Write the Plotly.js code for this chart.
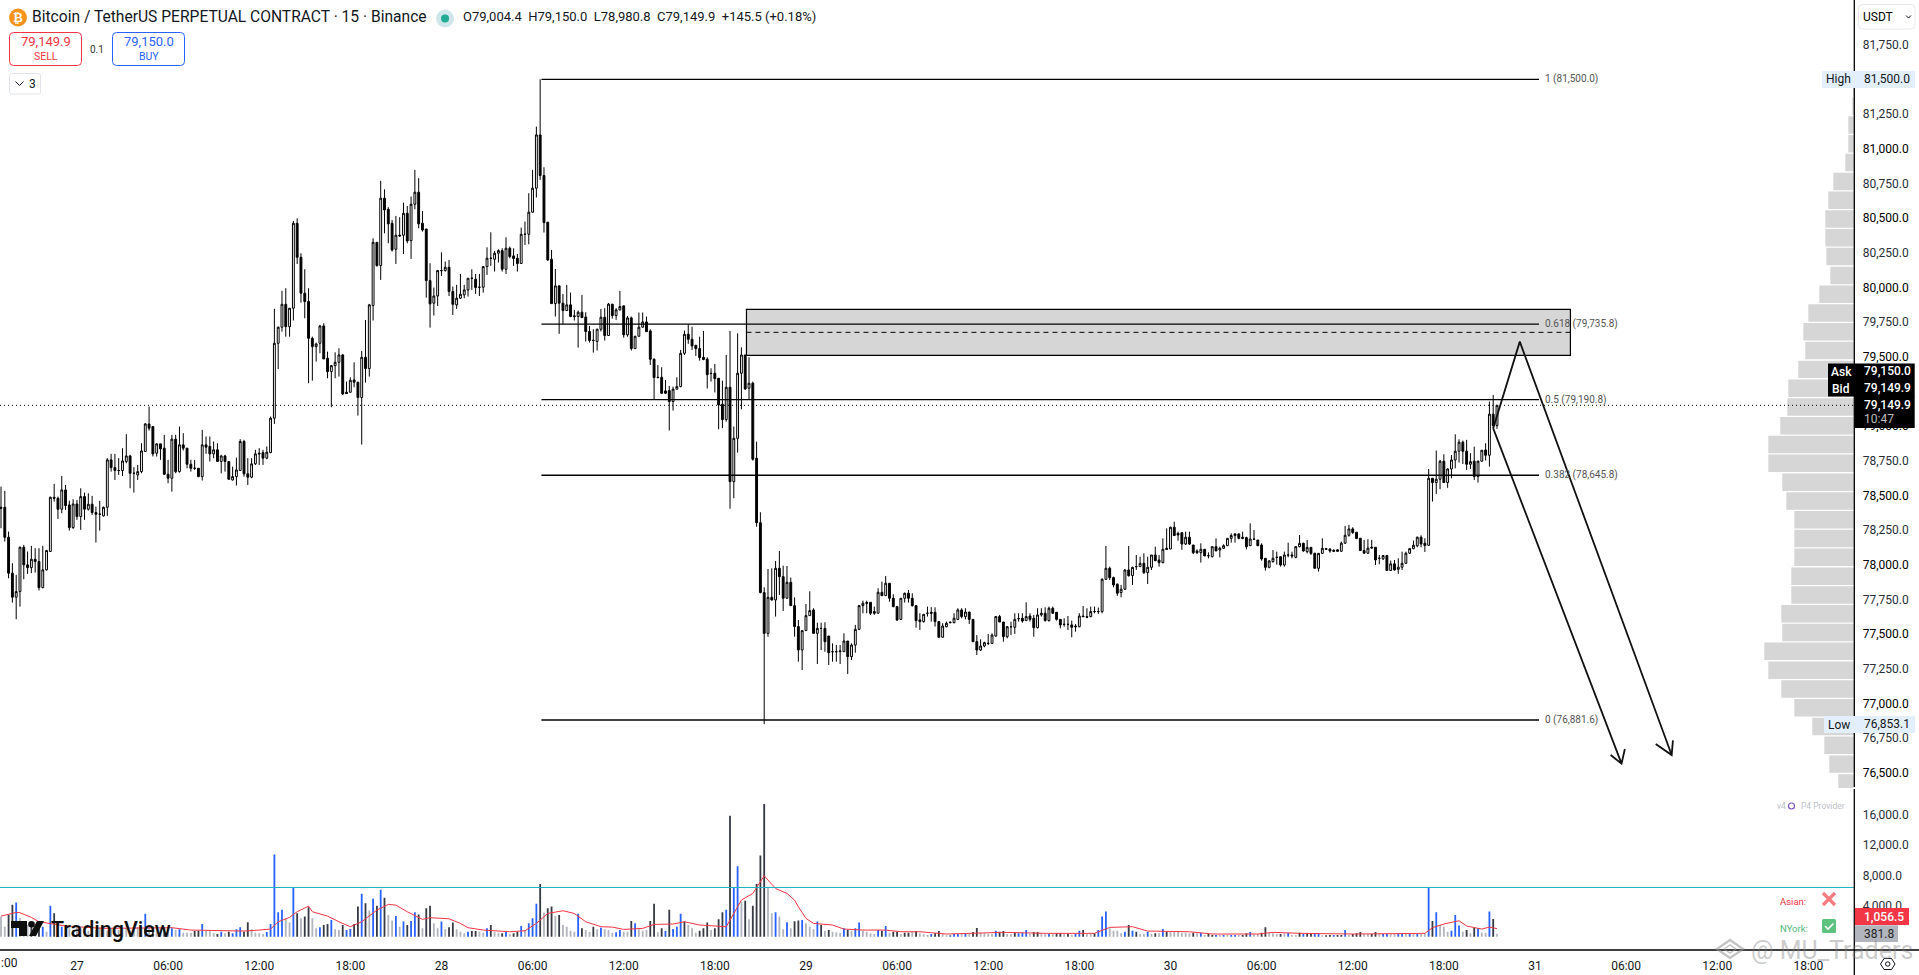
<!DOCTYPE html>
<html><head><meta charset="utf-8">
<script src="https://cdn.plot.ly/plotly-3.0.1.min.js"></script>
<style>html,body{margin:0;padding:0;background:#fff;overflow:hidden}#chart{width:1919px;height:975px}</style>
</head><body><div id="chart"></div>
<script>
// 15-minute bars, one every 15 minutes from 26 Mar 19:00
const open=[
78415,78415,78199,77940,77767,77807,78127,78000,77980,78040,
78024,77836,77964,78096,78487,78480,78401,78540,78432,78269,
78439,78348,78492,78401,78437,78377,78365,78353,78415,78757,
78701,78680,78680,78745,78785,78660,78648,78672,78817,79016,
78997,78805,78872,78841,78653,78624,78906,78672,78865,78841,
78725,78696,78696,78636,78865,78853,78800,78829,78745,78785,
78745,78612,78636,78680,78889,78656,78632,78728,78805,78809,
78769,78809,79057,79597,79713,79878,79717,79850,80462,80217,
79958,79898,79633,79573,79597,79722,79489,79393,79436,79460,
79513,79244,79244,79333,79316,79206,79496,79415,79869,80325,
80157,80643,80563,80462,80275,80376,80376,80534,80337,80599,
80686,80462,80421,80049,79886,79938,80121,80121,80145,79970,
79874,79922,79946,79982,80066,80059,80001,80001,80150,80210,
80203,80246,80265,80131,80282,80227,80210,80172,80383,80383,
80542,80715,81099,80806,80470,80203,79883,80011,79886,79833,
79874,79795,79790,79821,79787,79682,79619,79610,79698,79785,
79653,79879,79797,79838,79867,79658,79780,79559,79648,79713,
79751,79686,79482,79352,79352,79254,79256,79177,79266,79285,
79525,79662,79626,79583,79559,79496,79482,79381,79381,79345,
79158,79047,79280,78600,78912,79381,79513,79273,79309,78768,
78304,77800,77506,77766,77747,77975,77915,77759,77874,77706,
77555,77386,77526,77634,77675,77506,77542,77542,77487,77374,
77374,77374,77374,77451,77338,77422,77535,77706,77728,77730,
77663,77651,77802,77778,77867,77759,77699,77607,77759,77795,
77759,77706,77603,77591,77651,77658,77658,77591,77478,77554,
77583,77583,77607,77675,77627,77660,77607,77446,77386,77415,
77434,77434,77487,77627,77588,77482,77554,77550,77612,77615,
77598,77631,77615,77547,77639,77651,77598,77687,77658,77607,
77571,77571,77567,77559,77554,77631,77627,77627,77663,77663,
77663,77896,77975,77908,77860,77800,77824,77963,77922,77987,
77987,78011,77944,77982,78071,78035,78016,78119,78114,78271,
78227,78232,78150,78199,78143,78100,78088,78112,78066,78059,
78131,78107,78119,78138,78191,78211,78223,78199,78196,78138,
78186,78179,78143,78047,77982,78023,78054,78059,77999,78071,
78071,78054,78131,78155,78095,78126,78083,77975,78083,78117,
78115,78105,78108,78098,78156,78213,78259,78235,78192,78103,
78084,78127,78127,78047,78043,78067,77959,78007,77968,77983,
78011,78084,78117,78137,78199,78156,78141,78624,78593,78617,
78747,78593,78691,78756,78819,78884,78819,78725,78747,78636,
78747,78828,78790,79086,79004.4];
const high=[
78564,78533,78240,78012,77928,78132,78144,78096,78137,78120,
78120,78137,78108,78492,78584,78492,78641,78576,78463,78473,
78468,78552,78521,78516,78497,78420,78461,78420,78769,78800,
78800,78769,78841,78942,78793,78704,78720,78877,79021,79141,
78997,78877,78872,78937,78757,78937,78937,78997,78949,78841,
78757,78757,78696,78973,78925,78925,78889,78877,78793,78793,
78745,78708,78773,78906,78901,78769,78769,78829,78841,78829,
78853,79069,79845,79717,79975,79994,79850,80479,80498,80246,
80131,79994,79645,79602,79729,79741,79537,79441,79532,79561,
79520,79321,79352,79460,79321,79542,79765,79881,80354,80325,
80768,80707,80578,80486,80515,80506,80611,80587,80655,80847,
80787,80551,80421,80174,79999,80126,80253,80186,80198,80006,
80018,80097,80018,80066,80131,80097,80097,80150,80289,80397,
80263,80275,80282,80361,80294,80282,80241,80431,80474,80679,
80847,81159,81500,80866,80470,80270,80133,80011,79953,80018,
79963,79838,79833,79946,79821,79722,79698,79703,79845,79850,
79888,79879,79850,79975,79867,79794,79790,79648,79819,79819,
79790,79698,79489,79441,79424,79333,79290,79285,79352,79549,
79689,79734,79717,79583,79645,79686,79496,79417,79448,79345,
79328,79513,79686,78997,79669,79568,79513,79496,79321,78888,
78379,77838,77970,77975,78028,78100,77994,77992,77908,77766,
77603,77526,77718,77809,77687,77583,77583,77586,77487,77434,
77422,77422,77506,77451,77434,77567,77711,77742,77742,77730,
77699,77831,77879,77920,77867,77788,77699,77759,77800,77819,
77795,77711,77651,77646,77699,77694,77694,77591,77579,77591,
77591,77651,77687,77687,77687,77660,77607,77494,77463,77446,
77502,77506,77631,77639,77588,77559,77590,77651,77651,77651,
77730,77651,77639,77687,77687,77694,77699,77699,77658,77607,
77615,77631,77598,77574,77651,77703,77687,77699,77699,77692,
77903,78136,77987,77915,77867,77855,77968,78136,77987,78071,
78059,78083,78059,78071,78131,78071,78191,78263,78275,78311,
78239,78232,78239,78239,78143,78112,78155,78112,78090,78131,
78191,78131,78148,78191,78227,78227,78227,78239,78203,78299,
78251,78179,78155,78047,78035,78107,78095,78059,78095,78160,
78095,78136,78215,78160,78179,78126,78088,78083,78191,78122,
78115,78112,78112,78168,78281,78288,78271,78235,78192,78180,
78185,78180,78127,78071,78071,78071,78031,78035,78047,78095,
78095,78122,78175,78204,78213,78192,78691,78624,78824,78756,
78797,78696,78792,78941,78905,78896,78901,78805,78852,78752,
78828,78877,79177,79225,79150];
const low=[
78264,78168,77903,77728,77608,77699,77896,77935,77940,77944,
77815,77831,77959,78096,78456,78331,78372,78396,78247,78259,
78324,78252,78324,78391,78360,78161,78247,78348,78353,78672,
78612,78648,78641,78732,78552,78521,78612,78660,78817,78968,
78781,78781,78757,78648,78588,78528,78660,78665,78824,78696,
78672,78684,78632,78608,78800,78745,78769,78745,78660,78672,
78612,78608,78572,78680,78636,78576,78624,78720,78720,78720,
78761,78805,79016,79412,79681,79645,79645,79761,80169,79890,
79777,79309,79328,79465,79525,79484,79345,79136,79345,79357,
79225,79235,79242,79280,79076,78867,79314,79357,79761,80150,
80054,80390,80318,80258,80169,80366,80241,80318,80205,80563,
80426,80402,79926,79710,79797,79866,80083,80114,79938,79801,
79845,79917,79922,79934,79982,79953,79938,79962,80090,80155,
80114,80179,80114,80097,80210,80155,80114,80169,80306,80311,
80539,80648,80775,80395,80191,79883,79790,79665,79737,79833,
79785,79761,79566,79782,79610,79602,79530,79545,79682,79617,
79650,79775,79766,79833,79638,79645,79545,79559,79645,79710,
79681,79441,79189,79345,79232,79232,78968,79112,79266,79280,
79513,79593,79549,79506,79472,79475,79271,79321,79242,78977,
78985,79033,78405,78480,78809,79122,79261,79194,78751,78275,
77795,76853.1,77482,77742,77627,77783,77667,77759,77703,77482,
77302,77242,77526,77631,77502,77285,77386,77374,77278,77302,
77302,77285,77374,77213,77314,77367,77530,77651,77651,77639,
77639,77651,77776,77776,77735,77694,77595,77603,77728,77728,
77699,77547,77530,77583,77627,77591,77555,77475,77475,77550,
77578,77578,77602,77615,77607,77574,77446,77350,77379,77406,
77422,77430,77482,77588,77446,77470,77494,77502,77591,77583,
77598,77591,77482,77542,77627,77591,77591,77646,77598,77542,
77554,77530,77478,77518,77550,77622,77615,77622,77651,77646,
77651,77891,77891,77838,77776,77766,77819,77915,77855,77963,
77987,77934,77862,77963,78026,77987,78011,78107,78114,78208,
78174,78108,78143,78143,78078,78078,78016,78064,78047,78054,
78100,78054,78114,78136,78160,78160,78184,78184,78112,78136,
78179,78136,78030,77958,77975,78016,78001,77987,77987,78054,
78047,78047,78126,78095,78083,78071,77975,77951,78078,78108,
78088,78093,78093,78093,78151,78203,78223,78187,78100,78079,
78079,78117,77999,78004,78035,77959,77956,77959,77935,77963,
78007,78079,78112,78127,78127,78093,78136,78456,78511,78545,
78593,78555,78624,78696,78737,78727,78684,78691,78612,78593,
78744,78752,78708,78980,78980.8];
const close=[
78408,78199,77940,77767,77807,78127,78000,77980,78040,78024,
77836,77964,78103,78487,78480,78401,78540,78427,78269,78439,
78348,78492,78401,78437,78377,78365,78365,78415,78757,78701,
78680,78680,78749,78785,78660,78660,78672,78821,79016,78985,
78800,78872,78836,78653,78624,78906,78672,78865,78841,78725,
78696,78696,78636,78865,78848,78800,78829,78745,78785,78745,
78617,78636,78684,78889,78656,78632,78728,78800,78800,78769,
78812,79057,79597,79713,79878,79717,79850,80462,80217,79958,
79898,79633,79573,79592,79722,79484,79393,79436,79460,79513,
79232,79235,79330,79316,79206,79496,79415,79874,80325,80157,
80643,80558,80458,80270,80376,80371,80534,80335,80599,80686,
80458,80414,80049,79881,79938,80121,80121,80145,79970,79878,
79922,79950,79982,80066,80066,79999,80001,80150,80210,80210,
80246,80265,80131,80282,80222,80208,80172,80383,80383,80542,
80715,81099,80806,80467,80198,79883,80011,79886,79833,79874,
79790,79790,79821,79782,79682,79617,79617,79698,79785,79653,
79879,79797,79838,79862,79658,79780,79559,79648,79713,79751,
79681,79482,79350,79350,79237,79237,79177,79266,79285,79525,
79662,79626,79578,79559,79494,79480,79371,79379,79343,79153,
79047,79280,78600,78912,79381,79513,79268,79309,78761,78304,
77800,77506,77766,77747,77975,77915,77759,77874,77706,77555,
77386,77526,77634,77670,77506,77542,77542,77446,77367,77374,
77374,77379,77451,77338,77422,77535,77706,77723,77723,77651,
77651,77802,77778,77867,77759,77699,77603,77759,77795,77759,
77706,77598,77591,77643,77651,77651,77591,77478,77559,77579,
77586,77615,77675,77627,77660,77607,77446,77386,77415,77439,
77434,77494,77627,77588,77482,77554,77554,77607,77612,77595,
77627,77607,77547,77639,77651,77598,77687,77651,77607,77567,
77571,77571,77550,77554,77631,77627,77622,77663,77663,77663,
77896,77975,77908,77855,77795,77824,77963,77922,77982,77987,
78011,77944,77982,78071,78030,78016,78112,78112,78271,78211,
78215,78150,78199,78150,78088,78088,78112,78064,78066,78131,
78100,78119,78138,78191,78211,78223,78191,78191,78131,78186,
78184,78138,78042,77982,78028,78047,78054,77999,78071,78071,
78064,78131,78155,78100,78126,78083,77975,78083,78119,78112,
78100,78098,78098,78156,78213,78259,78233,78189,78103,78084,
78120,78122,78035,78047,78067,77959,78007,77963,77983,78011,
78084,78117,78141,78199,78151,78139,78624,78593,78617,78747,
78593,78691,78756,78819,78884,78819,78725,78744,78636,78747,
78826,78790,79086,79004,79149.9];

const volume=[
2640,1320,2860,4180,4488,2420,1980,1540,1540,1320,
1540,1320,660,4048,3080,1760,1320,1320,1100,880,
1320,1100,968,792,1100,880,1232,968,792,1100,
1320,880,968,1100,792,880,1232,1100,2992,1320,
1320,1100,1100,1100,968,1100,880,968,528,528,
528,748,792,1672,792,792,440,352,660,440,
660,440,968,1232,660,1892,968,528,440,352,
616,1672,10780,3212,3520,2420,1848,6468,3080,2420,
2640,3872,2420,1100,1232,1540,1672,2200,968,880,
1540,880,1012,1672,3960,5632,4400,3432,4972,4048,
6160,5104,2860,2112,2728,1320,1980,1540,2068,3212,
2904,1100,3740,4048,1760,1100,1980,968,1232,1848,
968,660,440,660,748,748,660,528,1100,1540,
660,528,440,660,352,440,660,1408,880,1760,
2420,4312,6908,3168,3740,3960,2728,2860,1540,1320,
792,660,2992,1100,880,660,1320,968,1188,968,
880,528,572,880,660,660,2068,1760,968,792,
880,2068,4312,572,1100,748,3520,1012,1320,2992,
1980,1540,1100,528,792,1100,1848,880,1100,2288,
3212,3520,15840,6468,9240,4620,4708,2288,4048,6908,
10648,17380,6380,3080,3212,2640,968,1892,1100,2024,
2112,2200,1760,1320,968,1980,1540,792,880,660,
572,528,1100,880,792,1100,1848,792,660,440,
352,880,792,1408,528,660,660,352,528,528,
660,748,440,352,220,352,440,748,352,176,
176,352,352,352,352,352,616,1144,528,440,
352,352,792,660,748,352,352,528,440,528,
880,352,616,616,440,352,352,352,440,440,
352,352,264,352,792,880,352,352,440,880,
2640,3300,1100,792,792,440,660,1540,792,660,
352,352,660,352,440,440,1012,660,660,660,
660,528,528,440,528,440,528,220,352,220,
220,220,220,264,220,220,220,220,440,616,
352,352,528,1232,440,440,352,352,440,528,
220,220,528,352,440,440,440,440,176,176,
220,220,220,220,880,220,352,440,616,352,
352,352,616,352,352,352,352,352,352,352,
352,352,352,352,352,440,6468,2068,3212,1540,
1320,660,792,2860,1452,660,880,440,1188,1100,
528,528,3300,2332,381.8];
// b = blue bar, d = dark bar, g = grey bar, ten bars per row
const volumeKinds=[
"ggddbgggdg","dbgbdgbggg","gggggggggg","ggggggggbg","dggdgbgbgg",
"gddbgggdbg","dbbbddgggg","bbbbbggbdg","ddggbddbgg","dbbddbdgbd",
"bdggbgbdbb","dgddggbgdd","gggbddggbd","ggdbgddbgb","bbdgddgdgg",
"ggbdggdgbg","ggbbggdbgg","gddgdbdbbb","dgggdddgdd","dbdbbgdgdd",
"ddggbggbgd","dbgggbdgdg","ggbdgbbggg","gbdbgddgdd","gdgggbddgg",
"bbbgbgddgg","ggbddggdbb","bgddggbgdd","gdgbbdggdb","bbggggbdbd",
"ggbgdgbdgg","ggggdgbgdd","bgbgbbgddb","ggddgggdgb","ggdbddbbgd",
"dbddbgdddg","gddgbbggbb","gbgbggbdbg","ggbbbgdgdb","ggbdg"].join("");
const volumeMAIndex=[0,2,4,5,8,10,13,17,27,37,45,50,53,59,64,68,71,73,76,78,81,82,86,89,92,95,99,102,104,107,111,113,118,121,123,127,134,138,141,144,148,151,154,158,161,164,169,172,177,180,184,191,193,195,198,201,204,207,209,210,212,214,219,222,227,233,237,242,249,256,264,275,288,292,298,302,313,319,331,335,342,356,375,377,380,384,386,390,392,394];
const volumeMA=[2700,2920,3180,3140,2530,1960,1740,1400,1090,1090,1180,870,830,740,740,870,1000,1960,2530,3270,4010,3270,2700,1960,1310,1960,3490,4230,4140,3270,2270,2490,2350,1740,1180,870,650,780,1740,3050,3400,3050,1960,1310,1260,960,1090,1610,1660,1960,1530,1310,3050,4800,5670,7980,6320,5670,4800,3920,2400,1740,1530,1000,870,870,650,650,350,440,570,440,440,1220,1310,740,650,350,350,570,440,350,440,1180,1660,2090,1400,1000,1260,1056.5];
const volumeLimitLevel=6450;

const priceTicks=[76500,76750,77000,77250,77500,77750,78000,78250,78500,78750,79000,79250,79500,79750,80000,80250,80500,80750,81000,81250,81500,81750];
const volumeTicks=[4000,8000,12000,16000];
const timeTickDates=["2025-03-27 00:00","2025-03-27 06:00","2025-03-27 12:00","2025-03-27 18:00","2025-03-28 00:00","2025-03-28 06:00","2025-03-28 12:00","2025-03-28 18:00","2025-03-29 00:00","2025-03-29 06:00","2025-03-29 12:00","2025-03-29 18:00","2025-03-30 00:00","2025-03-30 06:00","2025-03-30 12:00","2025-03-30 18:00","2025-03-31 00:00","2025-03-31 06:00","2025-03-31 12:00","2025-03-31 18:00"];
const timeTickLabels=["27","06:00","12:00","18:00","28","06:00","12:00","18:00","29","06:00","12:00","18:00","30","06:00","12:00","18:00","31","06:00","12:00","18:00"];

const fibRatios=["1","0.618","0.5","0.382","0"];
const fibPrices=[81500.0,79735.8,79190.8,78645.8,76881.6];
const fibStartTime="2025-03-28 06:35", fibEndTime="2025-03-31 00:16", fibLabelTime="2025-03-31 00:30";
const zonePrices=[79510,79842,79676];
const zoneTimes=["2025-03-28 20:05","2025-03-31 02:20"];
const lastPrice=79149.9;

// hand-drawn projection lines: start, peak, tip, head wing, tip, head wing
const pathATimes=["2025-03-30 21:15","2025-03-30 23:00","2025-03-31 09:00","2025-03-31 07:57","2025-03-31 09:00","2025-03-31 09:05"];
const pathAPrices=[78984,79609,76629,76709,76629,76735];
const pathBTimes=["2025-03-30 21:15","2025-03-31 05:42","2025-03-31 04:59","2025-03-31 05:42","2025-03-31 05:55"];
const pathBPrices=[78984,76567,76629,76567,76673];

const profilePrices=[81441.5,81306,81170.5,81035,80899.5,80764,80628.5,80493,80357.5,80222,80086.5,79951,79815.5,79680,79544.5,79409,79273.5,79138,79002.5,78867,78731.5,78596,78460.5,78325,78189.5,78054,77918.5,77783,77647.5,77512,77376.5,77241,77105.5,76970,76834.5,76699,76563.5,76428];
const profileSizes=[1,2,6,6,9,21,26,29,29,28,24,35,46,51,49,56,66,67,74,86,86,72,68,60,60,60,63,63,73,72,90,86,73,60,42,30,25,16];

const W=1919,H=975;
const barStart=Date.UTC(2025,2,26,19,0);
const barTime=i=>new Date(barStart+i*900000).toISOString().slice(0,23).replace("T"," ");
const times=open.map((_,i)=>barTime(i));
const fx=x=>x/W, fy=y=>1-y/H;
const FONT="Roboto, 'Liberation Sans', sans-serif";
const axisRight=1854.3, paneBottom=788, timeLine=950;

const pick=k=>{const x=[],y=[];volume.forEach((v,i)=>{if(volumeKinds[i]===k){x.push(times[i]);y.push(v);}});return {x,y};};
const volTrace=(k,color)=>({type:"bar",xaxis:"x",yaxis:"y2",...pick(k),width:430000,marker:{color,line:{width:0}},hoverinfo:"skip"});

const data=[
 {type:"bar",orientation:"h",xaxis:"x2",yaxis:"y",x:profileSizes,y:profilePrices,width:126,marker:{color:"#d6d6d6",line:{width:0}},hoverinfo:"skip"},
 {type:"candlestick",xaxis:"x",yaxis:"y",x:times,open,high,low,close,
  increasing:{line:{color:"#000",width:1},fillcolor:"#fff"},
  decreasing:{line:{color:"#000",width:1},fillcolor:"#000"},whiskerwidth:0,hoverinfo:"skip"},
 {type:"scatter",mode:"lines",xaxis:"x",yaxis:"y",x:pathATimes,y:pathAPrices,line:{color:"#111",width:1.8},hoverinfo:"skip"},
 {type:"scatter",mode:"lines",xaxis:"x",yaxis:"y",x:pathBTimes,y:pathBPrices,line:{color:"#111",width:1.8},hoverinfo:"skip"},
 volTrace("g","#b2b5be"),volTrace("d","#363a45"),volTrace("b","#2962ff"),
 {type:"scatter",mode:"lines",xaxis:"x",yaxis:"y2",x:volumeMAIndex.map(barTime),y:volumeMA,line:{color:"#f23645",width:1},hoverinfo:"skip"},
 {type:"scatter",mode:"lines",xaxis:"x",yaxis:"y2",x:[barTime(-1),barTime(489)],y:[volumeLimitLevel,volumeLimitLevel],line:{color:"#1fb2c4",width:1.2},hoverinfo:"skip"}
];

const shapes=[];
const pxLine=(x0,y0,x1,y1,color="#000",width=1.3,layer="above")=>shapes.push({type:"line",xref:"paper",yref:"paper",x0:fx(x0),x1:fx(x1),y0:fy(y0),y1:fy(y1),line:{color,width},layer});
const pxRect=(x0,y0,x1,y1,fill,line="rgba(0,0,0,0)",lw=0,layer="above")=>shapes.push({type:"rect",xref:"paper",yref:"paper",x0:fx(x0),x1:fx(x1),y0:fy(y0),y1:fy(y1),fillcolor:fill,line:{color:line,width:lw},layer});
const pxCircle=(cx,cy,r,fill)=>shapes.push({type:"circle",xref:"paper",yref:"paper",x0:fx(cx-r),x1:fx(cx+r),y0:fy(cy-r),y1:fy(cy+r),fillcolor:fill,line:{width:0},layer:"above"});
const pxPath=(pts,opt={})=>shapes.push({type:"path",xref:"paper",yref:"paper",path:"M "+pts.map(p=>fx(p[0])+","+fy(p[1])).join(" L ")+(opt.closed?" Z":""),fillcolor:opt.fill||"rgba(0,0,0,0)",line:{color:opt.color||"#000",width:opt.width===undefined?1:opt.width},layer:"above"});
const roundRect=(x0,y0,x1,y1,r,fill,color,width=1)=>{
 const P=(x,y)=>fx(x)+","+fy(y);
 shapes.push({type:"path",xref:"paper",yref:"paper",layer:"above",fillcolor:fill,line:{color,width},
 path:`M ${P(x0+r,y0)} L ${P(x1-r,y0)} Q ${P(x1,y0)} ${P(x1,y0+r)} L ${P(x1,y1-r)} Q ${P(x1,y1)} ${P(x1-r,y1)} L ${P(x0+r,y1)} Q ${P(x0,y1)} ${P(x0,y1-r)} L ${P(x0,y0+r)} Q ${P(x0,y0)} ${P(x0+r,y0)} Z`});
};

// zone and levels
shapes.push({type:"rect",xref:"x",yref:"y",x0:zoneTimes[0],x1:zoneTimes[1],y0:zonePrices[0],y1:zonePrices[1],fillcolor:"#d6d6d6",line:{color:"#000",width:1.2},layer:"below"});
shapes.push({type:"line",xref:"x",yref:"y",x0:zoneTimes[0],x1:zoneTimes[1],y0:zonePrices[2],y1:zonePrices[2],line:{color:"#000",width:1,dash:"5px,4px"},layer:"above"});
fibPrices.forEach(p=>shapes.push({type:"line",xref:"x",yref:"y",x0:fibStartTime,x1:fibEndTime,y0:p,y1:p,line:{color:"#000",width:1.3},layer:"above"}));
shapes.push({type:"line",xref:"x domain",yref:"y",x0:0,x1:1,y0:lastPrice,y1:lastPrice,line:{color:"#000",width:1,dash:"1px,3px"},layer:"above"});
// frame
pxLine(axisRight,0,axisRight,paneBottom-1);
pxLine(axisRight,paneBottom+1,axisRight,H);
pxLine(0,timeLine,W,timeLine);
const annotations=[];
const label=(text,x,y,o={})=>annotations.push({xref:"paper",yref:"paper",x:fx(x),y:fy(y),text,showarrow:false,xanchor:o.anchor||"left",yanchor:"middle",font:{family:o.family||FONT,size:o.size||12,color:o.color||"#131722",weight:o.weight||400},opacity:o.opacity===undefined?1:o.opacity,borderpad:0,align:"left"});

// header
pxCircle(18,17.5,9,"#f7931a");
label("₿",18,17.5,{anchor:"center",size:12,color:"#fff",weight:700});
label("Bitcoin / TetherUS PERPETUAL CONTRACT · 15 · Binance",31,16.5,{size:15.6});
pxCircle(445,18.5,9,"#cfe6ea");pxCircle(445,18.5,4,"#22ab94");
label("O79,004.4  H79,150.0  L78,980.8  C79,149.9  +145.5 (+0.18%)",461.5,16.5,{size:13});
roundRect(9.5,32.5,81.5,65.5,4,"#fff","#f23645");
label("79,149.9",45.5,41.5,{anchor:"center",size:13,color:"#f23645"});
label("SELL",45.5,56.5,{anchor:"center",size:10.5,color:"#f23645"});
label("0.1",96.5,49,{anchor:"center",size:10,color:"#333"});
roundRect(112.5,32.5,184.5,65.5,4,"#fff","#2962ff");
label("79,150.0",148.5,41.5,{anchor:"center",size:13,color:"#2962ff"});
label("BUY",148.5,56.5,{anchor:"center",size:10.5,color:"#2962ff"});
roundRect(9.5,73.5,40.5,94,2,"#fff","#e0e3eb");
pxPath([[15.5,81.5],[19.5,85.5],[23.5,81.5]],{color:"#131722",width:1});
label("3",32.5,84,{anchor:"center",size:12});

// fib labels
fibPrices.forEach((p,k)=>annotations.push({xref:"x",yref:"y",x:fibLabelTime,y:p,text:`${fibRatios[k]} (${p.toLocaleString("en-US",{minimumFractionDigits:1})})`,showarrow:false,xanchor:"left",yanchor:"middle",font:{family:FONT,size:10,color:"#555"}}));

// right axis tags
roundRect(1858.5,4.5,1915,29,4,"#fff","#e6e8ee");
label("USDT",1862,16.5,{size:12,color:"#000"});
pxPath([[1906,15.5],[1908.5,18],[1911,15.5]],{color:"#131722",width:1});
pxRect(1822,71,1915,88,"#e3effd");
label("High",1838,79,{anchor:"center",size:12});
label("81,500.0",1863,79,{size:12});
pxRect(1824,716,1915,733,"#e3effd");
label("Low",1839,725,{anchor:"center",size:12});
label("76,853.1",1863,724,{size:12});
pxRect(1828,363.5,1914.7,396.5,"#000");
pxRect(axisRight+0.6,396,1914.7,428,"#000");
label("Ask",1841,372,{anchor:"center",size:12,color:"#fff",weight:500});
label("79,150.0",1863,371,{size:12,color:"#fff",weight:500});
label("Bid",1841,389,{anchor:"center",size:12,color:"#fff",weight:500});
label("79,149.9",1863,388,{size:12,color:"#fff",weight:500});
label("79,149.9",1863,405,{size:12,color:"#fff",weight:500});
label("10:47",1863,419,{size:12,color:"#bdbdbd"});
pxRect(axisRight+0.6,908,1909,925,"#f23645");
label("1,056.5",1863,916.5,{size:12,color:"#fff",weight:500});
pxRect(axisRight+0.6,925.3,1898,942,"#b2b5be");
label("381.8",1863,933.5,{size:12,color:"#222"});

// session markers
label("Asian:",1779,901,{size:9.5,color:"#f23645"});
pxLine(1823,893,1835,905,"#f77c80",3.2);pxLine(1835,893,1823,905,"#f77c80",3.2);
label("NYork:",1779,928,{size:9.5,color:"#4fb97a"});
roundRect(1822,919,1836,933,1.5,"#5cc27e","#5cc27e",0);
pxPath([[1825,926],[1828,929],[1833.5,923.5]],{color:"#fff",width:1.6});

// small marks
label("v4",1776,806,{size:8.5,color:"#bcc0c8"});
pxCircle(1791.5,806,3.6,"#7e57c2");pxCircle(1791.5,806,2.4,"#fff");
label("P4 Provider",1799.5,806,{size:8.5,color:"#bcc0c8"});

// TradingView mark
pxPath([[11,921],[27,921],[27,936],[19,936],[19,928],[11,928]],{closed:true,fill:"#0f0f0f",color:"#0f0f0f",width:0});
pxCircle(31.5,924.3,3.3,"#0f0f0f");
pxPath([[37,921],[44,921],[36,936],[29,936]],{closed:true,fill:"#0f0f0f",color:"#0f0f0f",width:0});
label("TradingView",49.5,929.5,{size:21.5,color:"#0f0f0f",weight:500});

// time edge label
label(":00",0,963,{size:12});
// settings icon
pxPath([[1880.5,964],[1884,958.5],[1891.5,958.5],[1895,964],[1891.5,969.5],[1884,969.5]],{closed:true,color:"#131722",width:1});
shapes.push({type:"circle",xref:"paper",yref:"paper",x0:fx(1885.5),x1:fx(1890),y0:fy(966.2),y1:fy(961.8),line:{color:"#131722",width:1},layer:"above"});

// share watermark
pxPath([[1717,949],[1730,940],[1743,949],[1730,958]],{closed:true,color:"rgba(150,150,150,.55)",width:2.5});
pxPath([[1724,949],[1730,945],[1736,949],[1730,953]],{closed:true,color:"rgba(150,150,150,.55)",width:1.5});
label("@ MU_Traders",1750,950,{size:25,color:"rgba(130,130,130,.42)"});

const pTickText=priceTicks.map(v=>{const s=v.toLocaleString("en-US",{minimumFractionDigits:1});return v%500===0?`<span style="color:#000">${s}</span>`:s;});
const layout={
 width:W,height:H,margin:{l:0,r:0,t:0,b:0},autosize:false,paper_bgcolor:"#fff",plot_bgcolor:"#fff",showlegend:false,hovermode:false,
 barmode:"overlay",boxgap:0.3,
 font:{family:FONT,size:12,color:"#131722"},
 xaxis:{type:"date",domain:[0,axisRight/W],range:[barTime(-0.263),barTime(488.1)],anchor:"y2",showgrid:false,zeroline:false,showline:false,
  tickmode:"array",tickvals:timeTickDates,ticktext:timeTickLabels,ticks:"outside",ticklen:5,tickcolor:"rgba(0,0,0,0)",tickfont:{size:12,color:"#131722"},rangeslider:{visible:false},fixedrange:true},
 xaxis2:{domain:[0,axisRight/W],range:[axisRight,0],overlaying:"x",anchor:"y",visible:false,fixedrange:true},
 yaxis:{domain:[1-paneBottom/H,1],range:[76391.4,82071.6],anchor:"x",side:"right",showgrid:false,zeroline:false,showline:false,
  tickmode:"array",tickvals:priceTicks,ticktext:pTickText,ticks:"outside",ticklen:5,tickcolor:"rgba(0,0,0,0)",tickfont:{size:12,color:"#2a2e39"},fixedrange:true},
 yaxis2:{domain:[1-timeLine/H,1-(paneBottom+1)/H],range:[-1743,19358],anchor:"x",side:"right",showgrid:false,zeroline:false,showline:false,
  tickmode:"array",tickvals:volumeTicks,ticktext:volumeTicks.map(v=>v.toLocaleString("en-US",{minimumFractionDigits:1})),ticks:"outside",ticklen:5,tickcolor:"rgba(0,0,0,0)",tickfont:{size:12,color:"#2a2e39"},fixedrange:true},
 shapes,annotations
};
Plotly.newPlot("chart",data,layout,{displayModeBar:false,staticPlot:true});
</script></body></html>
